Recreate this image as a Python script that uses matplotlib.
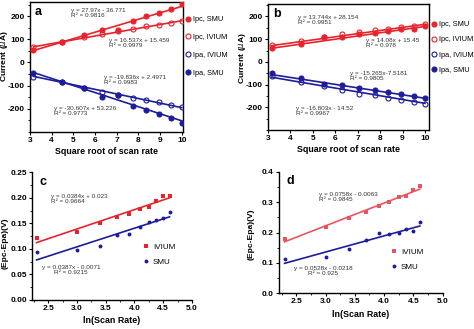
import numpy as np
import matplotlib.pyplot as plt
from matplotlib.ticker import MultipleLocator

plt.rcParams['font.family'] = ['Liberation Sans', 'DejaVu Sans']
plt.rcParams['axes.unicode_minus'] = False

# ---- data ----
sqrt_rate = [3.16, 4.47, 5.48, 6.32, 7.07, 7.75, 8.37, 8.94, 9.49, 10.0]
ln_rate = [2.30, 3.00, 3.40, 3.69, 3.91, 4.09, 4.25, 4.38, 4.50, 4.61]

# panel a
a_ipc_smu = [55, 88, 117, 139, 142, 180, 200, 216, 233, 255]
a_ipc_ivium = [67, 88, 110, 125, 135, 143, 156, 164, 172, 180]
a_ipa_ivium = [-61, -83, -110, -129, -140, -154, -162, -172, -183, -194]
a_ipa_smu = [-46, -83, -110, -151, -140, -187, -206, -223, -240, -264]
a_fits = [(27.97, -36.771), (16.537, 15.459), (-19.836, 2.4971), (-30.607, 53.226)]
a_eqs = ['y = 27.97x - 36.771\nR² = 0.9816', 'y = 16.537x + 15.459\nR² = 0.9979',
         'y = -19.836x + 2.4971\nR² = 0.9983', 'y = -30.607x + 53.226\nR² = 0.9773']

# panel b
b_ipc_smu = [59, 81, 108, 108, 123, 129, 138, 146, 146, 158]
b_ipc_ivium = [74, 93, 111, 123, 133, 140, 147, 155, 158, 168]
b_ipa_ivium = [-63, -88, -108, -122, -140, -147, -158, -166, -177, -184]
b_ipa_smu = [-49, -71, -99, -103, -113, -125, -133, -140, -150, -159]
b_fits = [(14.08, 15.45), (13.744, 28.154), (-16.803, -14.52), (-15.265, -7.5181)]
b_eqs = ['y = 13.744x + 28.154\nR² = 0.9951', 'y = 14.08x + 15.45\nR² = 0.978',
         'y = -15.265x-7.5181\nR² = 0.9805', 'y = -16.803x - 14.52\nR² = 0.9967']

# panel c
c_ivium = [0.121, 0.134, 0.150, 0.163, 0.168, 0.178, 0.183, 0.193, 0.204, 0.204]
c_smu = [0.093, 0.097, 0.106, 0.127, 0.129, 0.142, 0.152, 0.157, 0.161, 0.173]
c_eqs = ['y = 0.0384x + 0.023\nR² = 0.9664', 'y = 0.0387x - 0.0071\nR² = 0.9215']

# panel d
d_ivium = [0.179, 0.219, 0.247, 0.266, 0.286, 0.301, 0.316, 0.321, 0.340, 0.354]
d_smu = [0.112, 0.118, 0.146, 0.175, 0.200, 0.194, 0.197, 0.210, 0.205, 0.233]
d_eqs = ['y = 0.0758x - 0.0063\nR² = 0.9845', 'y = 0.0528x - 0.0218\nR² = 0.925']

iv_labels = ['Ipc, SMU', 'Ipc, IVIUM', 'Ipa, IVIUM', 'Ipa, SMU']

RED = '#e8232b'
BLUE = '#1c1c9c'
TXT = '#333333'

W, H = 474, 329
fig = plt.figure(figsize=(W / 100, H / 100), dpi=100)


def box(l, t, r, b):
    return [l / W, 1 - b / H, (r - l) / W, (b - t) / H]


def fx(x, y):
    return x / W, 1 - y / H


def style(ax, full=True):
    for s in ax.spines.values():
        s.set_linewidth(1.0)
    if not full:
        ax.spines['top'].set_visible(False)
        ax.spines['right'].set_visible(False)
    ax.tick_params(labelsize=6, width=0.8, length=2.5, pad=1.2)
    ax.tick_params(which='minor', width=0.6, length=1.5)
    for lab in ax.get_xticklabels() + ax.get_yticklabels():
        lab.set_fontweight('bold')


def ylab(text, px, py):
    fig.text(*fx(px, py), text, rotation=90, fontsize=6.1, fontweight='bold',
             ha='center', va='center')


def iv_panel(ax, series, fits, eqs, eqpos, letter, legpos, lspace):
    x = np.array(sqrt_rate)
    styles = [(RED, RED), (RED, 'none'), (BLUE, 'none'), (BLUE, BLUE)]
    handles = []
    for ys, (m, c), (col, fc), lab in zip(series, fits, styles, iv_labels):
        ax.plot(x, m * x + c, color=col, lw=1.2, zorder=2)
        h, = ax.plot(x, ys, 'o', color=col, mfc=fc, mec=col, ms=3.6, mew=0.8,
                     zorder=3, label=lab)
        handles.append(h)
    for t, (px, py) in zip(eqs, eqpos):
        tx, ty = ax.transAxes.inverted().transform(fig.transFigure.transform(fx(px, py)))
        ax.text(tx, ty, t, transform=ax.transAxes, fontsize=4.6, color=TXT,
                va='top', ha='left', linespacing=1.1)
    ax.text(0.03, 0.97, letter, transform=ax.transAxes, fontsize=9,
            fontweight='bold', va='top', ha='left')
    ax.set_xticks(range(3, 11))
    ax.set_yticks([-200, -100, 0, 100, 200])
    ax.yaxis.set_minor_locator(MultipleLocator(50))
    ax.set_xlabel('Square root of scan rate', fontsize=6.4, fontweight='bold', labelpad=2)
    fig.legend(handles=handles, loc='upper left', bbox_to_anchor=fx(*legpos),
               frameon=False, fontsize=5.3, handlelength=0.7, handletextpad=0.4,
               labelspacing=lspace, borderpad=0, borderaxespad=0)
    style(ax)


# ---- panel a ----
ax_a = fig.add_axes(box(30, 2, 183, 131.7))
iv_panel(ax_a, [a_ipc_smu, a_ipc_ivium, a_ipa_ivium, a_ipa_smu], a_fits, a_eqs,
         [(71, 8), (109, 38), (104, 75), (54, 106)], 'a', (185, 16), 1.45)
ax_a.set_xlim(3, 10.06)
ax_a.set_ylim(-300, 262)
ylab(r'Current ($\mu$A)', 5, 56)

# ---- panel b ----
ax_b = fig.add_axes(box(268, 4, 429, 130))
iv_panel(ax_b, [b_ipc_smu, b_ipc_ivium, b_ipa_ivium, b_ipa_smu], b_fits, b_eqs,
         [(298, 15), (366, 38), (350, 71), (296, 106)], 'b', (431, 21), 1.1)
ax_b.set_xlim(3, 10.18)
ax_b.set_ylim(-300, 255)
ylab(r'Current ($\mu$A)', 242, 58)


# ---- panels c, d ----
def ep_panel(ax, iv, smu, red, eqs, eqpos, letter, legpos):
    x = np.array(ln_rate)
    for ys, col in [(iv, red), (smu, BLUE)]:
        m, c = np.polyfit(x, ys, 1)
        ax.plot(x, m * x + c, color=col, lw=1.2, zorder=2)
    h1, = ax.plot(x, iv, 's', color=red, ms=2.6, mew=0, zorder=3, label='IVIUM')
    h2, = ax.plot(x, smu, 'o', color=BLUE, ms=2.8, mew=0, zorder=3, label='SMU')
    for t, (px, py), ha in zip(eqs, eqpos, ['left', 'center']):
        tx, ty = ax.transAxes.inverted().transform(fig.transFigure.transform(fx(px, py)))
        ax.text(tx, ty, t, transform=ax.transAxes, fontsize=4.6, color=TXT,
                va='top', ha=ha, multialignment=ha, linespacing=1.1)
    ax.text(0.05, 0.97, letter, transform=ax.transAxes, fontsize=9,
            fontweight='bold', va='top', ha='left')
    ax.xaxis.set_major_locator(MultipleLocator(0.5))
    ax.xaxis.set_minor_locator(MultipleLocator(0.25))
    ax.set_xlabel('ln(Scan Rate)', fontsize=6.4, fontweight='bold', labelpad=3)
    fig.legend(handles=[h1, h2], loc='upper left', bbox_to_anchor=fx(*legpos),
               frameon=False, fontsize=5.8, handlelength=0.6, handletextpad=0.5,
               labelspacing=0.9, borderpad=0, borderaxespad=0)


ax_c = fig.add_axes(box(32, 172.3, 192, 300))
ep_panel(ax_c, c_ivium, c_smu, RED, c_eqs, [(51, 194), (71, 265)], 'c', (144, 243))
ax_c.set_xlim(2.22, 5.0)
ax_c.set_ylim(0, 0.25)
ax_c.set_yticks(np.arange(0, 0.26, 0.05))
ax_c.yaxis.set_minor_locator(MultipleLocator(0.025))
ax_c.yaxis.set_major_formatter('{x:.2f}')
ax_c.xaxis.set_major_formatter('{x:.1f}')
style(ax_c, full=False)
ylab('(Epc-Epa)(V)', 5, 243)

ax_d = fig.add_axes(box(278.7, 171.7, 442.7, 293.3))
ep_panel(ax_d, d_ivium, d_smu, '#e85560', d_eqs, [(319, 192), (323, 266)], 'd', (392, 248))
ax_d.set_xlim(2.2, 5.0)
ax_d.set_ylim(0, 0.4)
ax_d.set_yticks(np.arange(0, 0.41, 0.1))
ax_d.yaxis.set_minor_locator(MultipleLocator(0.05))
ax_d.yaxis.set_major_formatter('{x:.1f}')
ax_d.xaxis.set_major_formatter('{x:.1f}')
style(ax_d, full=False)
ylab('(Epc-Epa)(V)', 251, 234)

fig.savefig('out.png', dpi=100)
